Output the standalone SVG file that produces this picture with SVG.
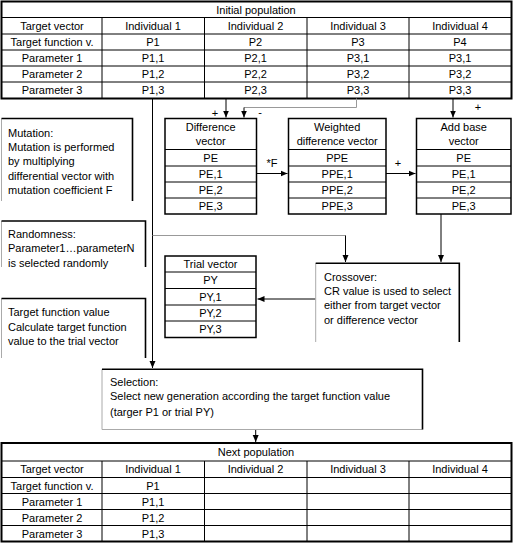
<svg xmlns="http://www.w3.org/2000/svg" width="513" height="543" viewBox="0 0 513 543">
<defs>
<style>
text{font-family:"Liberation Sans",Arial,sans-serif;font-size:11px;fill:#000}
.c{text-anchor:middle}
.outer{fill:#fff;stroke:#000;stroke-width:2}
.grid{stroke:#000;stroke-width:1;fill:none}
.box{fill:#fff;stroke:#000;stroke-width:1.5}
.dk{stroke:#000;stroke-width:1.6;fill:none}
.lt{stroke:#aaa;stroke-width:1;fill:none}
.ln{stroke:#000;stroke-width:1;fill:none}
.gl{stroke:#999;stroke-width:1;fill:none}
</style>
<marker id="ah" markerUnits="userSpaceOnUse" markerWidth="8" markerHeight="8" viewBox="0 0 8 8" refX="7" refY="4" orient="auto">
<path d="M0,1 L7,4 L0,7 Z" fill="#000"/>
</marker>
</defs>
<rect width="513" height="543" fill="#fff"/>

<g id="initial-population">
<rect class="outer" x="1.5" y="1.5" width="510" height="97"/>
<path class="grid" d="M1.5,17.5H511.5M1.5,34H511.5M1.5,50H511.5M1.5,66H511.5M1.5,82H511.5M102,17.5V98.5M204.5,17.5V98.5M307,17.5V98.5M409,17.5V98.5"/>
<text class="c" x="256" y="13.5">Initial population</text>
<text class="c" x="52" y="30">Target vector</text>
<text class="c" x="153" y="30">Individual 1</text>
<text class="c" x="255.5" y="30">Individual 2</text>
<text class="c" x="358" y="30">Individual 3</text>
<text class="c" x="460" y="30">Individual 4</text>
<text class="c" x="52" y="46">Target function v.</text>
<text class="c" x="153" y="46">P1</text>
<text class="c" x="255.5" y="46">P2</text>
<text class="c" x="358" y="46">P3</text>
<text class="c" x="460" y="46">P4</text>
<text class="c" x="52" y="62">Parameter 1</text>
<text class="c" x="153" y="62">P1,1</text>
<text class="c" x="255.5" y="62">P2,1</text>
<text class="c" x="358" y="62">P3,1</text>
<text class="c" x="460" y="62">P3,1</text>
<text class="c" x="52" y="78">Parameter 2</text>
<text class="c" x="153" y="78">P1,2</text>
<text class="c" x="255.5" y="78">P2,2</text>
<text class="c" x="358" y="78">P3,2</text>
<text class="c" x="460" y="78">P3,2</text>
<text class="c" x="52" y="94">Parameter 3</text>
<text class="c" x="153" y="94">P1,3</text>
<text class="c" x="255.5" y="94">P2,3</text>
<text class="c" x="358" y="94">P3,3</text>
<text class="c" x="460" y="94">P3,3</text>
</g>

<g id="connectors">
<path class="ln" d="M152.5,98.5V368" marker-end="url(#ah)"/>
<path class="gl" d="M152.5,235.5H345.5"/>
<path class="ln" d="M345.5,235.5V262" marker-end="url(#ah)"/>
<path class="ln" d="M226,98.5V117.5" marker-end="url(#ah)"/>
<path class="gl" d="M356.5,98.5V107.5H244"/>
<path class="ln" d="M244,107.5V117.5" marker-end="url(#ah)"/>
<path class="ln" d="M453,98.5V117.5" marker-end="url(#ah)"/>
<path class="ln" d="M256.5,173.5H287.5" marker-end="url(#ah)"/>
<path class="ln" d="M386,173.5H415.5" marker-end="url(#ah)"/>
<path class="ln" d="M441,214V262" marker-end="url(#ah)"/>
<path class="ln" d="M315.5,299H257.5" stroke="#333" marker-end="url(#ah)"/>
<path class="ln" d="M255.7,430V442" marker-end="url(#ah)"/>
<text class="c" x="215" y="117">+</text>
<text class="c" x="260" y="116">-</text>
<text class="c" x="478" y="110.5">+</text>
<text class="c" x="272" y="167">*F</text>
<text class="c" x="398" y="167">+</text>
</g>

<g id="difference-vector">
<rect class="box" x="165" y="118.5" width="91.5" height="95.5"/>
<path class="grid" d="M165,149.5H256.5M165,166H256.5M165,182H256.5M165,198H256.5"/>
<text class="c" x="210.7" y="130.7">Difference</text>
<text class="c" x="210.7" y="144.7">vector</text>
<text class="c" x="210.7" y="161.7">PE</text>
<text class="c" x="210.7" y="178">PE,1</text>
<text class="c" x="210.7" y="194">PE,2</text>
<text class="c" x="210.7" y="210">PE,3</text>
</g>

<g id="weighted-difference-vector">
<rect class="box" x="288.5" y="118.5" width="97.5" height="95.5"/>
<path class="grid" d="M288.5,149.5H386M288.5,166H386M288.5,182H386M288.5,198H386"/>
<text class="c" x="337.2" y="130.7">Weighted</text>
<text class="c" x="337.2" y="144.7">difference vector</text>
<text class="c" x="337.2" y="161.7">PPE</text>
<text class="c" x="337.2" y="178">PPE,1</text>
<text class="c" x="337.2" y="194">PPE,2</text>
<text class="c" x="337.2" y="210">PPE,3</text>
</g>

<g id="add-base-vector">
<rect class="box" x="416.5" y="118.5" width="94.5" height="95.5"/>
<path class="grid" d="M416.5,149.5H511M416.5,166H511M416.5,182H511M416.5,198H511"/>
<text class="c" x="463.7" y="130.7">Add base</text>
<text class="c" x="463.7" y="144.7">vector</text>
<text class="c" x="463.7" y="161.7">PE</text>
<text class="c" x="463.7" y="178">PE,1</text>
<text class="c" x="463.7" y="194">PE,2</text>
<text class="c" x="463.7" y="210">PE,3</text>
</g>

<g id="mutation">
<path class="lt" d="M1.5,201V118.5"/>
<path class="dk" d="M1.5,118.5H132.5V201"/>
<text x="8" y="136.7">Mutation:</text>
<text x="8" y="150.7">Mutation is performed</text>
<text x="8" y="165">by multiplying</text>
<text x="8" y="179.7">differential vector with</text>
<text x="8" y="194">mutation coefficient F</text>
</g>

<g id="randomness">
<path class="lt" d="M1.5,267V221"/>
<path class="dk" d="M1.5,221H145.5V267"/>
<text x="8" y="238">Randomness:</text>
<text x="8" y="252.3">Parameter1…parameterN</text>
<text x="8" y="267.3">is selected randomly</text>
</g>

<g id="target-function-value">
<path class="lt" d="M1.5,358V298.5"/>
<path class="dk" d="M1.5,298.5H145.5V358"/>
<text x="8" y="315.7">Target function value</text>
<text x="8" y="330.7">Calculate target function</text>
<text x="8" y="344.7">value to the trial vector</text>
</g>

<g id="trial-vector">
<rect class="box" x="165" y="256" width="91" height="81.5"/>
<path class="grid" d="M165,272H256M165,288.5H256M165,305H256M165,321H256"/>
<text class="c" x="210.5" y="268">Trial vector</text>
<text class="c" x="210.5" y="284.3">PY</text>
<text class="c" x="210.5" y="300.8">PY,1</text>
<text class="c" x="210.5" y="317">PY,2</text>
<text class="c" x="210.5" y="333.3">PY,3</text>
</g>

<g id="crossover">
<path class="lt" d="M315.7,342V263.3"/>
<path class="dk" d="M315.7,263.3H459.3V342"/>
<text x="324" y="281.3">Crossover:</text>
<text x="324" y="295">CR value is used to select</text>
<text x="324" y="309.3">either from target vector</text>
<text x="324" y="324">or difference vector</text>
</g>

<g id="selection">
<path class="lt" d="M102,369.3V429.5H422.5"/>
<path class="dk" d="M102,369.3H422.5V429.5"/>
<text x="110" y="385.7">Selection:</text>
<text x="110" y="400.3">Select new generation according the target function value</text>
<text x="110" y="415.7">(targer P1 or trial PY)</text>
</g>

<g id="next-population">
<rect class="outer" x="1.5" y="443" width="510" height="98.5"/>
<path class="grid" d="M1.5,461H511.5M1.5,477.5H511.5M1.5,493.5H511.5M1.5,509.5H511.5M1.5,525.5H511.5M102,461V541.5M204.5,461V541.5M307,461V541.5M409,461V541.5"/>
<text class="c" x="256" y="456">Next population</text>
<text class="c" x="52" y="473.3">Target vector</text>
<text class="c" x="153" y="473.3">Individual 1</text>
<text class="c" x="255.5" y="473.3">Individual 2</text>
<text class="c" x="358" y="473.3">Individual 3</text>
<text class="c" x="460" y="473.3">Individual 4</text>
<text class="c" x="52" y="489.5">Target function v.</text>
<text class="c" x="153" y="489.5">P1</text>
<text class="c" x="52" y="505.5">Parameter 1</text>
<text class="c" x="153" y="505.5">P1,1</text>
<text class="c" x="52" y="521.5">Parameter 2</text>
<text class="c" x="153" y="521.5">P1,2</text>
<text class="c" x="52" y="537.5">Parameter 3</text>
<text class="c" x="153" y="537.5">P1,3</text>
</g>
</svg>
